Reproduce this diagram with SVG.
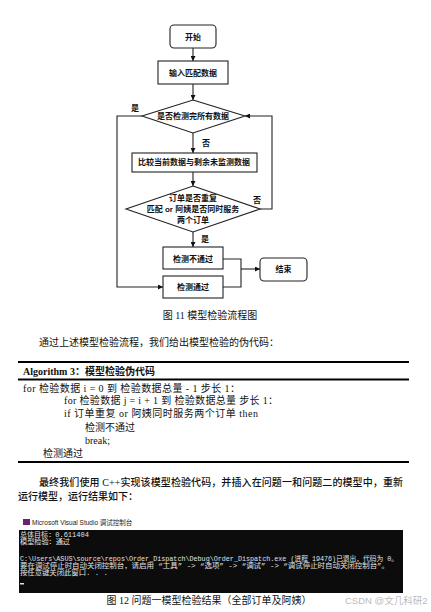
<svg xmlns="http://www.w3.org/2000/svg" width="431" height="612" viewBox="0 0 431 612">
<style>
.box{fill:#fff;stroke:#222;stroke-width:1.1}
.ln{fill:none;stroke:#222;stroke-width:1.1}
.ft{font-family:"Liberation Sans","Noto Sans CJK SC",sans-serif;font-size:8px;font-weight:bold;fill:#111;text-anchor:middle}
.lb{font-family:"Liberation Sans","Noto Sans CJK SC",sans-serif;font-size:8px;font-weight:bold;fill:#111;text-anchor:middle}
.tx{font-family:"Liberation Serif","Noto Sans CJK SC",serif;font-size:10px;fill:#111}
.cap{font-family:"Liberation Serif","Noto Sans CJK SC",serif;font-size:10px;fill:#111;text-anchor:middle}
.con{font-family:"Liberation Mono","Noto Sans CJK SC",monospace;font-size:7px;fill:#e2e2e2}
.rule{stroke:#000;stroke-width:2}
</style>
<defs>
<marker id="ah" viewBox="0 0 10 10" refX="10" refY="5" markerWidth="5" markerHeight="5" orient="auto" markerUnits="userSpaceOnUse">
<path d="M0,0 L10,5 L0,10 z" fill="#111"/>
</marker>
</defs>
<rect width="431" height="612" fill="#fff"/>

<g id="connectors">
<line class="ln" x1="193" y1="48" x2="193" y2="61" marker-end="url(#ah)"/>
<line class="ln" x1="193" y1="84" x2="193" y2="100" marker-end="url(#ah)"/>
<line class="ln" x1="193" y1="133" x2="193" y2="153" marker-end="url(#ah)"/>
<line class="ln" x1="193" y1="172" x2="193" y2="186" marker-end="url(#ah)"/>
<line class="ln" x1="193" y1="232" x2="193" y2="247" marker-end="url(#ah)"/>
<polyline class="ln" points="142,116 117,116 117,287 163,287" marker-end="url(#ah)"/>
<polyline class="ln" points="260,209 272,209 272,116 245,116" marker-end="url(#ah)"/>
<polyline class="ln" points="223,259 241,259 241,287 223,287"/>
<line class="ln" x1="241" y1="269" x2="260" y2="269" marker-end="url(#ah)"/>
<text class="lb" x="135" y="111">是</text>
<text class="lb" x="206" y="146">否</text>
<text class="lb" x="257" y="203">否</text>
<text class="lb" x="205" y="242">是</text>
</g>

<g id="start">
<rect class="box" x="170" y="25" width="46" height="23" rx="4"/>
<text class="ft" x="193" y="40">开始</text>
</g>
<g id="input">
<rect class="box" x="158" y="61" width="70" height="23"/>
<text class="ft" x="193" y="76">输入匹配数据</text>
</g>
<g id="check-all">
<polygon class="box" points="193,100 245,116 193,133 142,116"/>
<text class="ft" x="193" y="119">是否检测完所有数据</text>
</g>
<g id="compare">
<rect class="box" x="132" y="153" width="125" height="19"/>
<text class="ft" x="194" y="165">比较当前数据与剩余未监测数据</text>
</g>
<g id="dup-check">
<polygon class="box" points="193,186 260,209 193,232 126,209"/>
<text class="ft" x="193" y="201">订单是否重复</text>
<text class="ft" x="193" y="212">匹配 or 阿姨是否同时服务</text>
<text class="ft" x="193" y="223">两个订单</text>
</g>
<g id="fail">
<rect class="box" x="163" y="247" width="60" height="22"/>
<text class="ft" x="193" y="261.5">检测不通过</text>
</g>
<g id="pass">
<rect class="box" x="163" y="276" width="60" height="22"/>
<text class="ft" x="193" y="290">检测通过</text>
</g>
<g id="end">
<rect class="box" x="260" y="258" width="47" height="23" rx="4"/>
<text class="ft" x="283.5" y="272">结束</text>
</g>

<text class="cap" x="210" y="318.5">图 11  模型检验流程图</text>
<text class="tx" x="39" y="345.5">通过上述模型检验流程，我们给出模型检验的伪代码：</text>

<line class="rule" x1="18" y1="362" x2="409" y2="362"/>
<text class="tx" x="23" y="374.5" font-weight="bold">Algorithm 3：模型检验伪代码</text>
<line class="rule" x1="18" y1="379.5" x2="409" y2="379.5"/>
<text class="tx" x="23" y="391.5" textLength="217" lengthAdjust="spacing">for 检验数据 i = 0 到 检验数据总量 - 1 步长 1：</text>
<text class="tx" x="64" y="403.5" textLength="214" lengthAdjust="spacing">for 检验数据 j = i + 1 到 检验数据总量 步长 1：</text>
<text class="tx" x="64" y="416.5" textLength="194" lengthAdjust="spacing">if 订单重复 or 阿姨同时服务两个订单 then</text>
<text class="tx" x="85" y="430.5">检测不通过</text>
<text class="tx" x="85" y="443.5">break;</text>
<text class="tx" x="43" y="456.5">检测通过</text>
<line class="rule" x1="18" y1="462" x2="409" y2="462"/>

<text class="tx" x="39" y="485.5" font-weight="500" textLength="364" lengthAdjust="spacing">最终我们使用 C++实现该模型检验代码，并插入在问题一和问题二的模型中，重新</text>
<text class="tx" x="18" y="499.5" font-weight="500">运行模型，运行结果如下：</text>

<rect x="23" y="519" width="7" height="6" fill="#68217a"/>
<text x="32" y="524.5" font-family="'Liberation Sans','Noto Sans CJK SC',sans-serif" font-size="6.5" fill="#222">Microsoft Visual Studio 调试控制台</text>
<rect x="19" y="530" width="384" height="63" fill="#0c0c0c"/>
<text class="con" x="20" y="537" textLength="69" lengthAdjust="spacingAndGlyphs">总体目标：0.611404</text>
<text class="con" x="20" y="543.5" textLength="50" lengthAdjust="spacingAndGlyphs">模型检验：通过</text>
<text class="con" x="20" y="561" textLength="378" lengthAdjust="spacingAndGlyphs">C:\Users\ASUS\source\repos\Order_Dispatch\Debug\Order_Dispatch.exe (进程 19476)已退出，代码为 0。</text>
<text class="con" x="20" y="567.5" textLength="369" lengthAdjust="spacingAndGlyphs">要在调试停止时自动关闭控制台，请启用 “工具” -&gt; “选项” -&gt; “调试” -&gt; “调试停止时自动关闭控制台”。</text>
<text class="con" x="20" y="574.5" textLength="88" lengthAdjust="spacingAndGlyphs">按任意键关闭此窗口. . .</text>
<rect x="20" y="583" width="4" height="1.5" fill="#e0e0e0"/>

<text class="cap" x="209" y="603.5">图 12  问题一模型检验结果（全部订单及阿姨）</text>
<text x="345" y="603.5" font-family="'Liberation Sans','Noto Sans CJK SC',sans-serif" font-size="9.5" fill="#bbb">CSDN @文几科研2</text>
</svg>
